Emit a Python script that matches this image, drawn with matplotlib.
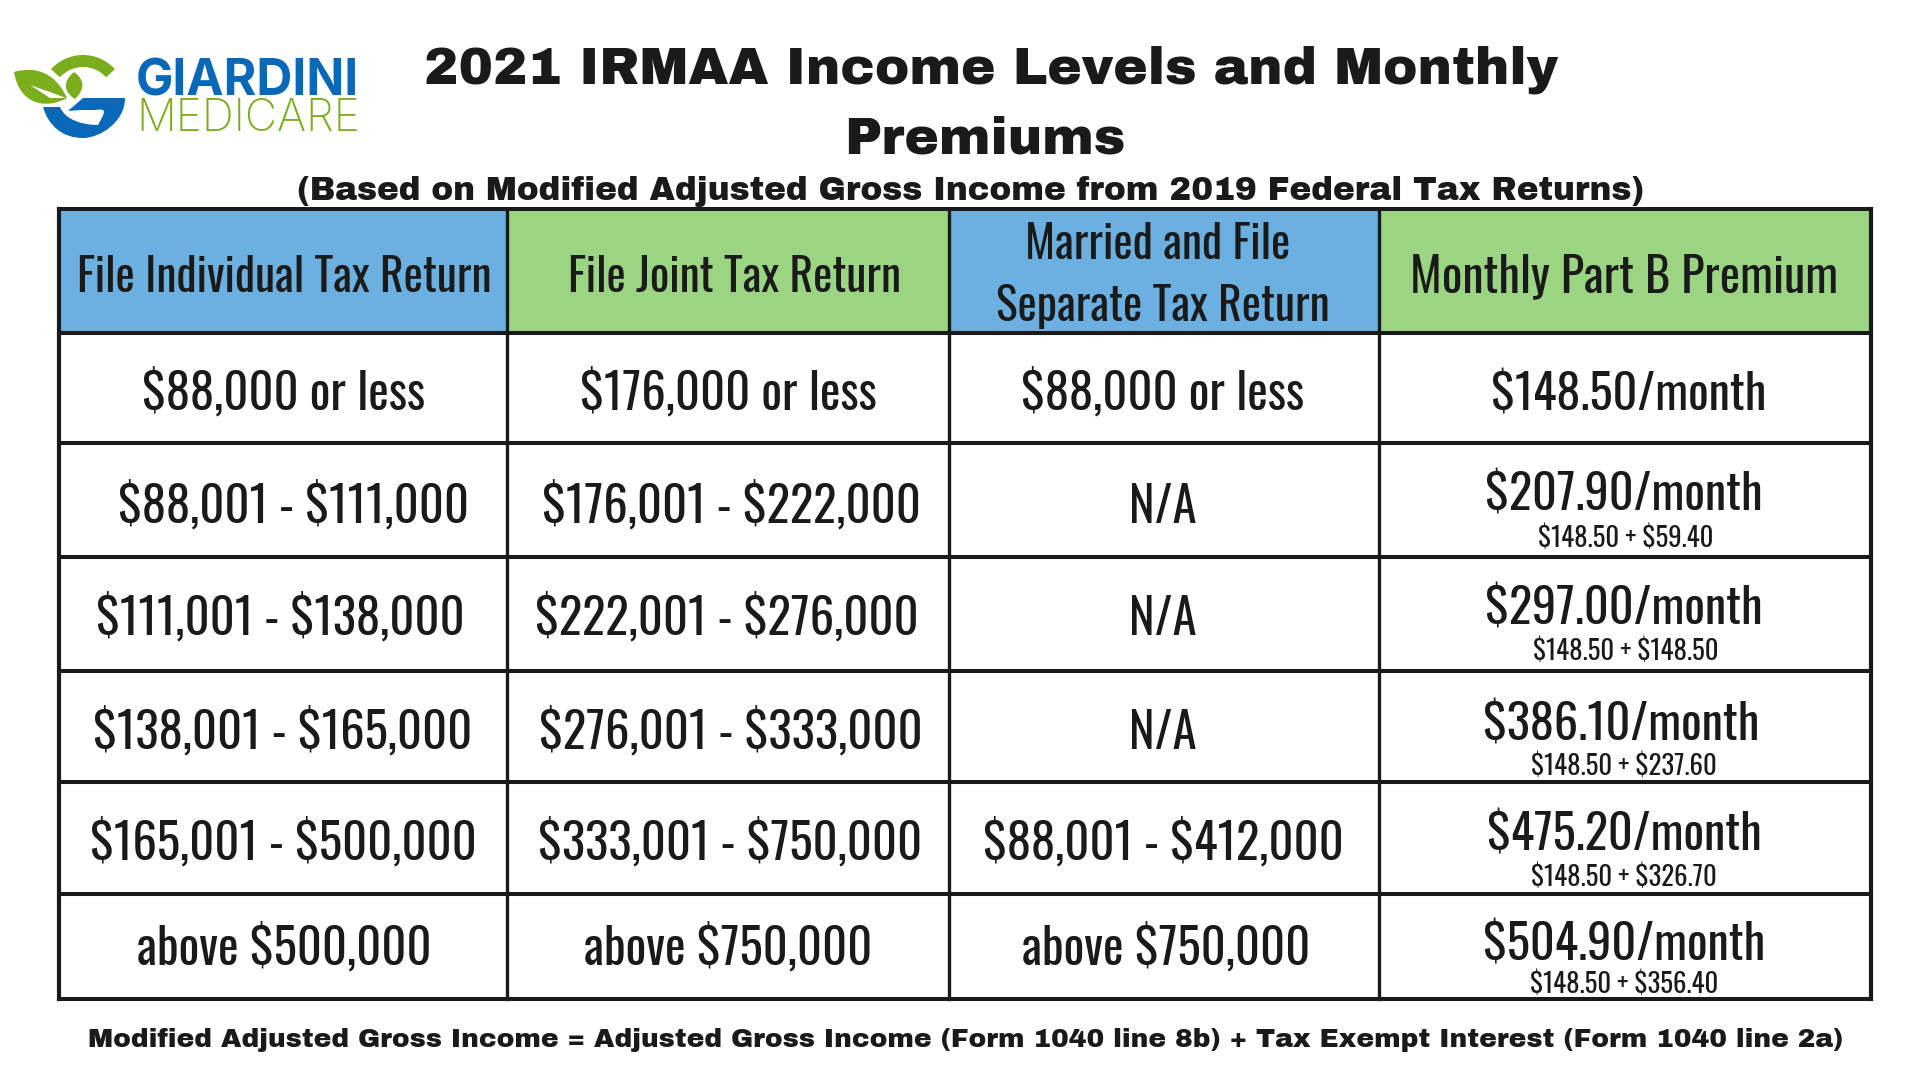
import matplotlib
matplotlib.use("Agg")
import matplotlib.pyplot as plt
from matplotlib.patches import Rectangle, Wedge, PathPatch, Polygon
from matplotlib.path import Path

TITLE = "2021 IRMAA Income Levels and Monthly\nPremiums"
SUBTITLE = "(Based on Modified Adjusted Gross Income from 2019 Federal Tax Returns)"
FOOTNOTE = "Modified Adjusted Gross Income = Adjusted Gross Income (Form 1040 line 8b) + Tax Exempt Interest (Form 1040 line 2a)"

headers = ["File Individual Tax Return", "File Joint Tax Return",
           "Married and File\nSeparate Tax Return", "Monthly Part B Premium"]
individual = ["$88,000 or less", "$88,001 - $111,000", "$111,001 - $138,000",
              "$138,001 - $165,000", "$165,001 - $500,000", "above $500,000"]
joint = ["$176,000 or less", "$176,001 - $222,000", "$222,001 - $276,000",
         "$276,001 - $333,000", "$333,001 - $750,000", "above $750,000"]
separate = ["$88,000 or less", "N/A", "N/A", "N/A", "$88,001 - $412,000", "above $750,000"]
premium = ["$148.50/month", "$207.90/month", "$297.00/month",
           "$386.10/month", "$475.20/month", "$504.90/month"]
premium_detail = ["", "$148.50 + $59.40", "$148.50 + $148.50", "$148.50 + $237.60",
                  "$148.50 + $326.70", "$148.50 + $356.40"]

# layout, in pixels of the 1920x1080 canvas
col_edges = [59, 507, 949, 1379, 1871]
row_edges = [209, 333, 443, 557, 671, 782, 894, 999]
col1_x = [284, 294, 280, 283, 283, 284]
col2_x = [728, 731, 727, 731, 730, 728]
col3_x = [1163, 1163, 1163, 1163, 1163, 1166]
col4_x = [1629, 1624, 1624, 1621, 1624, 1624]
sub_x = [0, 1626, 1626, 1624, 1624, 1624]
row_base = [410, 523, 635, 749, 860, 965]
prem_base = [410, 511, 625, 740, 851, 961]
sub_base = [0, 547, 660, 775, 886, 993]

BLUE, GREEN, INK = "#6bb0e0", "#9bd584", "#1a1a1a"
NARROW = ["Oswald", "Liberation Sans", "DejaVu Sans"]
HEAVY = ["Archivo Black", "Inter", "DejaVu Sans"]
CELL = 35
HEAD = 32.8


def label(x, y, s, fam=NARROW, size=CELL, color=INK, **kw):
    ax.text(x, y, s, family=fam, fontsize=size, color=color, ha=kw.pop("ha", "center"),
            va="baseline", parse_math=False, **kw)


fig = plt.figure(figsize=(19.2, 10.8), dpi=100, facecolor="white")
ax = fig.add_axes([0, 0, 1, 1])
ax.set_xlim(0, 1920)
ax.set_ylim(1080, 0)
ax.axis("off")

# header fills
for i, c in enumerate([BLUE, GREEN, BLUE, GREEN]):
    ax.add_patch(Rectangle((col_edges[i], row_edges[0]), col_edges[i + 1] - col_edges[i],
                           row_edges[1] - row_edges[0], fc=c, ec="none", zorder=1))
# grid
for x in col_edges:
    lw = 3.0 if x in (col_edges[0], col_edges[-1]) else 2.4
    ax.plot([x, x], [row_edges[0], row_edges[-1]], color=INK, lw=lw, zorder=2, solid_capstyle="projecting")
for y in row_edges:
    ax.plot([col_edges[0], col_edges[-1]], [y, y], color=INK, lw=2.9, zorder=2, solid_capstyle="projecting")

# header text
l1, l2 = headers[2].split("\n")
label(284, 292, headers[0], size=HEAD)
label(735, 292, headers[1], size=HEAD)
label(1158, 259, l1, size=HEAD)
label(1163, 321, l2, size=HEAD)
label(1624, 292, headers[3], size=34.7)

# body text
for col, xs in ((individual, col1_x), (joint, col2_x), (separate, col3_x)):
    for s, x, y in zip(col, xs, row_base):
        label(x, y, s)
for s, x, y in zip(premium, col4_x, prem_base):
    label(x, y, s, size=34.8)
for s, x, y in zip(premium_detail, sub_x, sub_base):
    if s:
        label(x, y, s, size=19.3)

# titles
t1, t2 = TITLE.split("\n")
label(991, 84, t1, fam=HEAVY, size=37.2)
label(985, 154, t2, fam=HEAVY, size=37.2)
label(971, 200, SUBTITLE, fam=HEAVY, size=23.6)
label(965.5, 1047, FOOTNOTE, fam=HEAVY, size=19.1)

# logo
LOGO_G, LOGO_B = "#7aae1c", "#0a68b8"
ax.add_patch(Wedge((83, 98), 43, -138, -42, width=12, fc=LOGO_G, ec="none", zorder=3))
ax.add_patch(PathPatch(Path(
    [(83, 98), (125, 98), (125, 122), (100, 138), (83, 138), (62, 138), (48, 125), (43, 107),
     (60, 107), (65, 120), (83, 125), (98, 125), (105, 112), (108, 108), (95, 110), (80, 110), (68, 111), (83, 98)],
    [Path.MOVETO, Path.LINETO, Path.CURVE4, Path.CURVE4, Path.CURVE4, Path.CURVE4, Path.CURVE4, Path.CURVE4,
     Path.LINETO, Path.CURVE4, Path.CURVE4, Path.CURVE4, Path.CURVE4, Path.CURVE4, Path.LINETO, Path.LINETO, Path.LINETO, Path.CLOSEPOLY]),
    fc=LOGO_B, ec="none", zorder=3))
ax.add_patch(PathPatch(Path(
    [(14, 72), (35, 66), (55, 72), (67, 98), (50, 108), (20, 108), (14, 72), (14, 72)],
    [Path.MOVETO, Path.CURVE4, Path.CURVE4, Path.CURVE4, Path.CURVE4, Path.CURVE4, Path.CURVE4, Path.CLOSEPOLY]),
    fc=LOGO_G, ec="none", zorder=4))
ax.add_patch(Polygon([(30, 85), (50, 92), (66, 98), (50, 98)], fc="white", ec="none", zorder=5))
ax.add_patch(PathPatch(Path(
    [(74, 72), (88, 82), (82, 92), (75, 99), (64, 92), (62, 82), (74, 72), (74, 72)],
    [Path.MOVETO, Path.CURVE4, Path.CURVE4, Path.CURVE4, Path.CURVE4, Path.CURVE4, Path.CURVE4, Path.CLOSEPOLY]),
    fc=LOGO_G, ec="none", zorder=4))
label(136, 96, "GIARDINI", fam=["Inter", "DejaVu Sans"], size=35.9, color=LOGO_B, ha="left", weight="bold")
label(136, 131, "MEDICARE", fam=["Inter", "DejaVu Sans"], size=31.9, color=LOGO_G, ha="left", weight="light")

fig.savefig("out.png", dpi=100, facecolor="white")
